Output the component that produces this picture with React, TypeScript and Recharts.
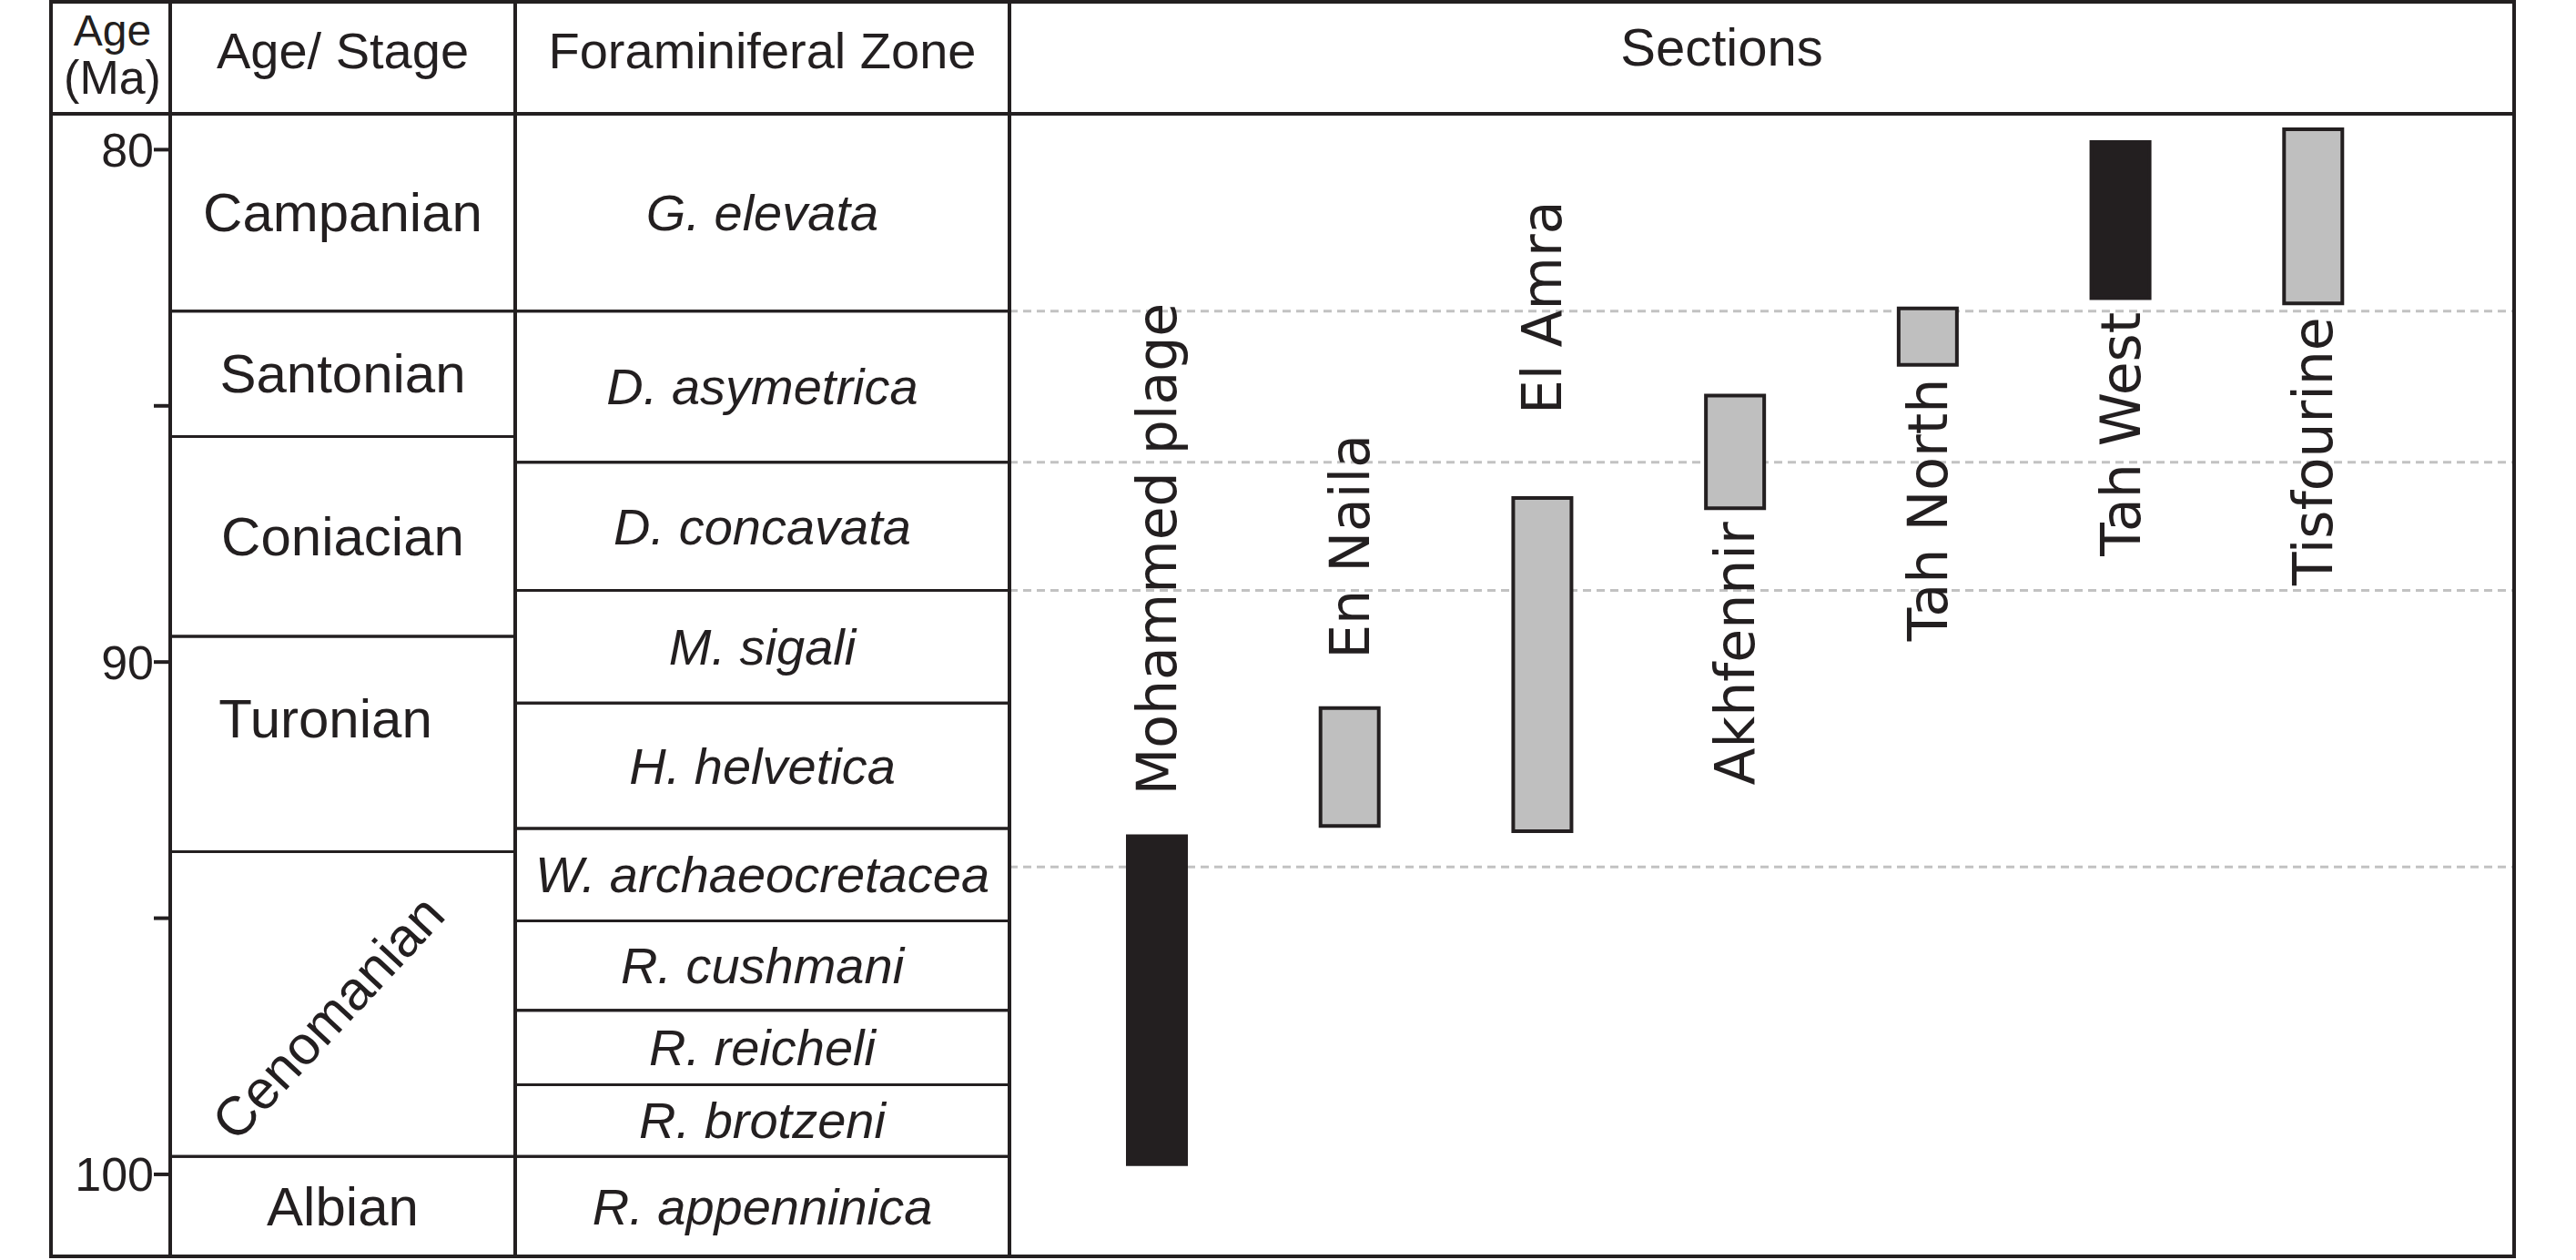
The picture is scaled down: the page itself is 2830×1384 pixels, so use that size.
import React from 'react';
import { ComposedChart, Bar, Cell, XAxis, YAxis, ReferenceArea, ReferenceLine, LabelList } from 'recharts';

// Age scale (Ma), increasing downwards
const ageDomain: [number, number] = [79.3, 101.6];
const ageTicks = [80, 85, 90, 95, 100];

// Stages
const stageNames = ['Campanian', 'Santonian', 'Coniacian', 'Turonian', 'Cenomanian', 'Albian'];
const stageTop = [79.3, 83.15, 85.6, 89.5, 93.7, 99.65];
const stageBase = [83.15, 85.6, 89.5, 93.7, 99.65, 101.6];

// Planktonic foraminiferal zones
const zoneNames = [
  'G. elevata',
  'D. asymetrica',
  'D. concavata',
  'M. sigali',
  'H. helvetica',
  'W. archaeocretacea',
  'R. cushmani',
  'R. reicheli',
  'R. brotzeni',
  'R. appenninica',
];
const zoneTop = [79.3, 83.15, 86.1, 88.6, 90.8, 93.25, 95.05, 96.8, 98.25, 99.65];
const zoneBase = [83.15, 86.1, 88.6, 90.8, 93.25, 95.05, 96.8, 98.25, 99.65, 101.6];

// Studied sections and their stratigraphic range
const sectionNames = ['Mohammed plage', 'En Naila', 'El Amra', 'Akhfennir', 'Tah North', 'Tah West', 'Tisfourine'];
const sectionTop = [93.4, 90.9, 86.8, 84.8, 83.1, 79.85, 79.6];
const sectionBase = [99.8, 93.2, 93.3, 87.0, 84.2, 82.9, 83.0];
const sectionKind = ['solid', 'shaded', 'shaded', 'shaded', 'shaded', 'solid', 'shaded'];

// dashed correlation guides across the sections
const guideAges = [83.15, 86.1, 88.6, 94.0];

const INK = '#231f20';
const SANS = '"Liberation Sans", Arial, sans-serif';
const WIDE = '"DejaVu Sans", Verdana, sans-serif';
const kindFill: Record<string, string> = { solid: INK, shaded: '#bfbfbf' };

// table frame
const X_LEFT = 56;
const X_AGE = 187;
const X_STAGE = 566;
const X_ZONE = 1109;
const X_RIGHT = 2762;
const Y_HEAD = 125;
const Y_BOTTOM = 1380;
const BODY_H = Y_BOTTOM - Y_HEAD;
const LINE = 4;
const SECTION_PAD = { left: 56, right: 115 };

const stageNudge: Record<string, { dx?: number; dy?: number; angle?: number }> = {
  Turonian: { dx: -19, dy: -28 },
  Cenomanian: { dx: -16, dy: 15, angle: -47 },
};
const sectionLabelGap: Record<string, number> = { 'Mohammed plage': 45, 'En Naila': 54, 'El Amra': 92 };

const stageRows = stageNames.map((name, i) => ({ name, top: stageTop[i], base: stageBase[i] }));
const zoneRows = zoneNames.map((name, i) => ({ name, top: zoneTop[i], base: zoneBase[i] }));
const sectionRows = sectionNames.map((name, i) => ({
  name,
  range: [sectionBase[i], sectionTop[i]],
  kind: sectionKind[i],
}));

const cellLabel =
  (text: string, fontSize: number, italic: boolean, nudge?: { dx?: number; dy?: number; angle?: number }) =>
  (props: any) => {
    const { x, y, width, height } = props.viewBox;
    const cx = x + width / 2 + (nudge?.dx ?? 0);
    const cy = y + height / 2 + (nudge?.dy ?? 0);
    return (
      <text
        x={cx}
        y={cy}
        textAnchor="middle"
        dominantBaseline="central"
        transform={nudge?.angle ? `rotate(${nudge.angle} ${cx} ${cy})` : undefined}
        fontFamily={SANS}
        fontStyle={italic ? 'italic' : 'normal'}
        fontSize={fontSize}
        fill={INK}
      >
        {text}
      </text>
    );
  };

const SectionLabel = (props: any) => {
  const x = Number(props.x);
  const y = Number(props.y);
  const w = Number(props.width);
  const h = Number(props.height);
  const name = String(props.value);
  const i = sectionNames.indexOf(name);
  const top = Math.min(y, y + h);
  const bottom = Math.max(y, y + h);
  const cx = x + w / 2;
  const above = sectionTop[i] > 86;
  const gap = sectionLabelGap[name] ?? 15;
  const ty = above ? top - gap : bottom + gap;
  return (
    <text
      x={cx}
      y={ty}
      transform={`rotate(-90 ${cx} ${ty})`}
      textAnchor={above ? 'start' : 'end'}
      dominantBaseline="central"
      fontFamily={WIDE}
      fontSize={60}
      fill={INK}
    >
      {name}
    </text>
  );
};

const hLine = (key: string, y: number, x1: number, x2: number) => (
  <div key={key} style={{ position: 'absolute', left: x1 - LINE / 2, top: y - LINE / 2, width: x2 - x1 + LINE, height: LINE, background: INK }} />
);
const vLine = (key: string, x: number, y1: number, y2: number) => (
  <div key={key} style={{ position: 'absolute', left: x - LINE / 2, top: y1 - LINE / 2, width: LINE, height: y2 - y1 + LINE, background: INK }} />
);

const headCell = (left: number, right: number, content: React.ReactNode, extra?: React.CSSProperties) => (
  <div
    style={{
      position: 'absolute',
      left,
      top: 0,
      width: right - left,
      height: Y_HEAD,
      display: 'flex',
      flexDirection: 'column',
      alignItems: 'center',
      justifyContent: 'center',
      fontFamily: SANS,
      color: INK,
      boxSizing: 'border-box',
      paddingBottom: 14,
      ...extra,
    }}
  >
    {content}
  </div>
);

const App: React.FC = () => {
  return (
    <div style={{ position: 'absolute', left: 0, top: 0, width: 2830, height: 1384, background: '#fff', overflow: 'hidden' }}>
      {/* header row */}
      {headCell(
        X_LEFT,
        X_AGE,
        <>
          <div style={{ fontSize: 48, lineHeight: '50px' }}>Age</div>
          <div style={{ fontSize: 52, lineHeight: '52px' }}>(Ma)</div>
        </>,
        { paddingBottom: 6, paddingLeft: 4 },
      )}
      {headCell(X_AGE, X_STAGE, <div style={{ fontSize: 56 }}>Age/ Stage</div>)}
      {headCell(X_STAGE, X_ZONE, <div style={{ fontSize: 56 }}>Foraminiferal Zone</div>)}
      {headCell(X_ZONE, X_RIGHT, <div style={{ fontSize: 58 }}>Sections</div>, { paddingRight: 88, paddingBottom: 22 })}

      {/* age scale + stages */}
      <div style={{ position: 'absolute', left: X_LEFT, top: Y_HEAD }}>
        <ComposedChart width={X_STAGE - X_LEFT} height={BODY_H} data={stageRows} margin={{ top: 0, right: 0, bottom: 0, left: 0 }}>
          <XAxis type="number" hide domain={[0, 1]} allowDataOverflow />
          <YAxis
            type="number"
            domain={ageDomain}
            reversed
            allowDataOverflow
            ticks={ageTicks}
            interval={0}
            width={X_AGE - X_LEFT}
            tickSize={18}
            tickMargin={0}
            axisLine={false}
            tickLine={{ stroke: INK, strokeWidth: 4 }}
            tick={{ fill: INK, fontSize: 52, fontFamily: SANS }}
            tickFormatter={(v: number) => (v % 10 === 0 ? String(v) : '')}
          />
          {stageRows.map((s) => (
            <ReferenceArea
              key={s.name}
              y1={s.top}
              y2={s.base}
              ifOverflow="visible"
              fill="none"
              stroke={INK}
              strokeWidth={3}
              label={cellLabel(s.name, 60, false, stageNudge[s.name])}
            />
          ))}
        </ComposedChart>
      </div>

      {/* foraminiferal zones */}
      <div style={{ position: 'absolute', left: X_STAGE, top: Y_HEAD }}>
        <ComposedChart width={X_ZONE - X_STAGE} height={BODY_H} data={zoneRows} margin={{ top: 0, right: 0, bottom: 0, left: 0 }}>
          <XAxis type="number" hide domain={[0, 1]} allowDataOverflow />
          <YAxis type="number" hide domain={ageDomain} reversed allowDataOverflow />
          {zoneRows.map((z) => (
            <ReferenceArea
              key={z.name}
              y1={z.top}
              y2={z.base}
              ifOverflow="visible"
              fill="none"
              stroke={INK}
              strokeWidth={3}
              label={cellLabel(z.name, 56, true)}
            />
          ))}
        </ComposedChart>
      </div>

      {/* dashed guides, kept underneath the section bars */}
      <div style={{ position: 'absolute', left: X_ZONE, top: Y_HEAD }}>
        <ComposedChart width={X_RIGHT - X_ZONE} height={BODY_H} data={sectionRows} margin={{ top: 0, right: 0, bottom: 0, left: 0 }}>
          <XAxis type="category" dataKey="name" hide padding={SECTION_PAD} />
          <YAxis type="number" hide domain={ageDomain} reversed allowDataOverflow />
          {guideAges.map((a) => (
            <ReferenceLine key={a} y={a} stroke="#c2c2c2" strokeWidth={3} strokeDasharray="9 6" ifOverflow="visible" />
          ))}
        </ComposedChart>
      </div>

      {/* sections */}
      <div style={{ position: 'absolute', left: X_ZONE, top: Y_HEAD }}>
        <ComposedChart width={X_RIGHT - X_ZONE} height={BODY_H} data={sectionRows} margin={{ top: 0, right: 0, bottom: 0, left: 0 }}>
          <XAxis type="category" dataKey="name" hide padding={SECTION_PAD} />
          <YAxis type="number" hide domain={ageDomain} reversed allowDataOverflow />
          <Bar dataKey="range" barSize={64} stroke={INK} strokeWidth={4} isAnimationActive={false}>
            {sectionRows.map((r) => (
              <Cell key={r.name} fill={kindFill[r.kind]} />
            ))}
            <LabelList dataKey="name" content={SectionLabel} />
          </Bar>
        </ComposedChart>
      </div>

      {/* table rules */}
      {hLine('top', 2, X_LEFT, X_RIGHT)}
      {hLine('head', Y_HEAD, X_LEFT, X_RIGHT)}
      {hLine('bottom', Y_BOTTOM, X_LEFT, X_RIGHT)}
      {vLine('left', X_LEFT, 2, Y_BOTTOM)}
      {vLine('age', X_AGE, 2, Y_BOTTOM)}
      {vLine('stage', X_STAGE, 2, Y_BOTTOM)}
      {vLine('zone', X_ZONE, 2, Y_BOTTOM)}
      {vLine('right', X_RIGHT, 2, Y_BOTTOM)}
    </div>
  );
};

export default App;
